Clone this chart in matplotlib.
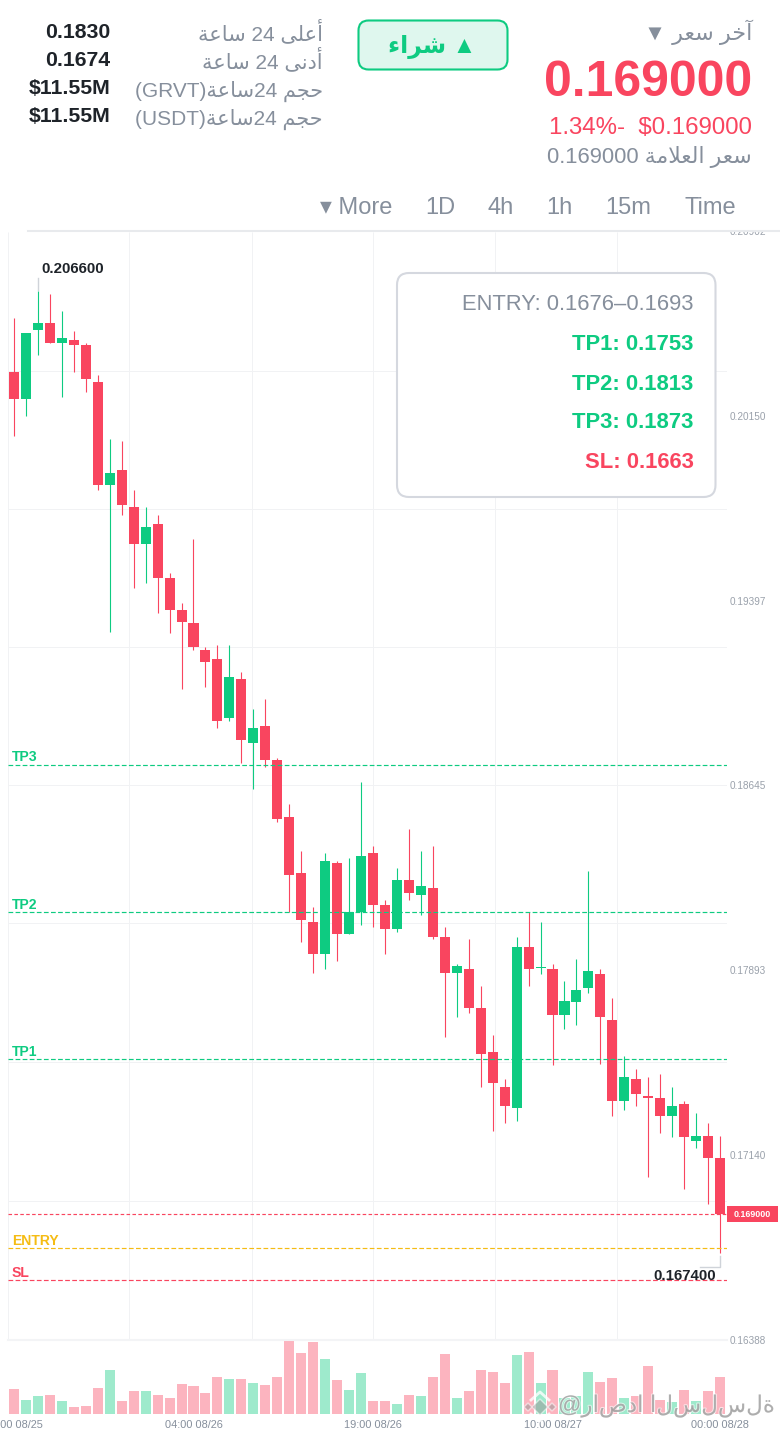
import re
import matplotlib
matplotlib.use('Agg')
import matplotlib.pyplot as plt
import matplotlib.patheffects as pe
from matplotlib.patches import FancyBboxPatch, Polygon, Rectangle

plt.rcParams['font.family'] = ['Liberation Sans', 'DejaVu Sans']

RED = '#F9455F'
GREEN = '#0ECB81'
GRAY = '#868F9C'
DARK = '#1E2329'
GRID = '#F1F2F4'
AMBER = '#F5BC14'

# candles, oldest first
opens = [0.20331, 0.20221, 0.20502, 0.20530, 0.20449, 0.20461, 0.20441, 0.20290, 0.19870, 0.19932,
         0.19781, 0.19630, 0.19712, 0.19492, 0.19361, 0.19308, 0.19198, 0.19162, 0.18921, 0.19080,
         0.18820, 0.18889, 0.18750, 0.18518, 0.18290, 0.18090, 0.17960, 0.18331, 0.18042, 0.18131,
         0.18368, 0.18160, 0.18062, 0.18258, 0.18200, 0.18229, 0.18029, 0.17883, 0.17899, 0.17740,
         0.17561, 0.17418, 0.17333, 0.17989, 0.17903, 0.17899, 0.17712, 0.17761, 0.17822, 0.17879,
         0.17691, 0.17361, 0.17451, 0.17382, 0.17370, 0.17300, 0.17349, 0.17198, 0.17219, 0.17129]
highs = [0.20551, 0.20489, 0.20660, 0.20648, 0.20579, 0.20498, 0.20449, 0.20318, 0.20058, 0.20050,
         0.19850, 0.19781, 0.19748, 0.19512, 0.19390, 0.19651, 0.19211, 0.19219, 0.19219, 0.19109,
         0.18958, 0.18999, 0.18758, 0.18571, 0.18380, 0.18152, 0.18372, 0.18339, 0.18351, 0.18661,
         0.18400, 0.18180, 0.18310, 0.18469, 0.18380, 0.18400, 0.18070, 0.17919, 0.18021, 0.17830,
         0.17630, 0.17451, 0.18029, 0.18131, 0.18090, 0.17919, 0.17850, 0.17940, 0.18298, 0.17899,
         0.17781, 0.17541, 0.17492, 0.17459, 0.17471, 0.17418, 0.17361, 0.17309, 0.17272, 0.17219]
lows = [0.20070, 0.20151, 0.20400, 0.20449, 0.20229, 0.20331, 0.20249, 0.19850, 0.19272, 0.19748,
        0.19451, 0.19471, 0.19349, 0.19268, 0.19040, 0.19198, 0.19048, 0.18881, 0.18909, 0.18738,
        0.18632, 0.18722, 0.18498, 0.18131, 0.18009, 0.17883, 0.17899, 0.17932, 0.18042, 0.18078,
        0.18070, 0.17960, 0.18050, 0.18180, 0.18119, 0.18021, 0.17622, 0.17700, 0.17720, 0.17418,
        0.17239, 0.17272, 0.17280, 0.17830, 0.17879, 0.17508, 0.17651, 0.17671, 0.17801, 0.17512,
        0.17300, 0.17321, 0.17341, 0.17052, 0.17231, 0.17211, 0.17003, 0.17170, 0.16942, 0.16740]
closes = [0.20221, 0.20489, 0.20530, 0.20449, 0.20469, 0.20441, 0.20302, 0.19870, 0.19919, 0.19789,
          0.19630, 0.19699, 0.19492, 0.19361, 0.19312, 0.19211, 0.19149, 0.18909, 0.19088, 0.18832,
          0.18881, 0.18750, 0.18510, 0.18282, 0.18099, 0.17960, 0.18339, 0.18042, 0.18131, 0.18359,
          0.18160, 0.18062, 0.18258, 0.18209, 0.18237, 0.18029, 0.17883, 0.17911, 0.17740, 0.17553,
          0.17431, 0.17341, 0.17989, 0.17899, 0.17907, 0.17712, 0.17769, 0.17810, 0.17891, 0.17700,
          0.17361, 0.17459, 0.17390, 0.17370, 0.17300, 0.17341, 0.17211, 0.17219, 0.17129, 0.16900]
volumes = [25, 14, 18, 19, 13, 7, 8, 26, 44, 13, 23, 23, 19, 16, 30, 28, 21, 37, 35, 35,
           31, 29, 37, 74, 61, 72, 55, 34, 24, 41, 13, 13, 10, 19, 18, 37, 60, 16, 23, 44,
           42, 31, 59, 62, 31, 44, 16, 18, 42, 32, 36, 16, 18, 48, 14, 12, 24, 13, 23, 37]

price_ticks = [0.16388, 0.17140, 0.17893, 0.18645, 0.19397, 0.20150, 0.20902]
time_ticks = [0, 15, 30, 45, 59]
time_labels = ['13:00 08/25', '04:00 08/26', '19:00 08/26', '10:00 08/27', '00:00 08/28']
grid_prices = [0.16954, 0.17520, 0.18086, 0.18648, 0.19211, 0.19773, 0.20335]
grid_times = [-0.5, 9.65, 19.85, 30.0, 40.2, 50.4]

last_price = 0.1690
levels = [('TP3', 0.1873, GREEN), ('TP2', 0.1813, GREEN), ('TP1', 0.1753, GREEN),
          ('ENTRY', 0.1676, AMBER), ('SL', 0.1663, RED)]
box_rows = [('ENTRY: 0.1676–0.1693', GRAY, 'normal'), ('TP1: 0.1753', GREEN, 'bold'),
            ('TP2: 0.1813', GREEN, 'bold'), ('TP3: 0.1873', GREEN, 'bold'),
            ('SL: 0.1663', RED, 'bold')]
tabs = ['▾ More', '1D', '4h', '1h', '15m', 'Time']

# matplotlib has no Arabic shaping, so pick the presentation forms here
# (isolated, final, initial, medial)
FORMS = {
    'ء': (0xFE80,), 'آ': (0xFE81, 0xFE82), 'أ': (0xFE83, 0xFE84), 'ا': (0xFE8D, 0xFE8E),
    'ة': (0xFE93, 0xFE94), 'د': (0xFEA9, 0xFEAA), 'ر': (0xFEAD, 0xFEAE), 'ى': (0xFEEF, 0xFEF0),
    'ج': (0xFE9D, 0xFE9E, 0xFE9F, 0xFEA0), 'ح': (0xFEA1, 0xFEA2, 0xFEA3, 0xFEA4),
    'خ': (0xFEA5, 0xFEA6, 0xFEA7, 0xFEA8), 'س': (0xFEB1, 0xFEB2, 0xFEB3, 0xFEB4),
    'ش': (0xFEB5, 0xFEB6, 0xFEB7, 0xFEB8), 'ع': (0xFEC9, 0xFECA, 0xFECB, 0xFECC),
    'ل': (0xFEDD, 0xFEDE, 0xFEDF, 0xFEE0), 'م': (0xFEE1, 0xFEE2, 0xFEE3, 0xFEE4),
    'ن': (0xFEE5, 0xFEE6, 0xFEE7, 0xFEE8),
}


def shape_word(word):
    out = ''
    joined = False
    i = 0
    while i < len(word):
        ch = word[i]
        if word[i:i + 2] == 'لا':
            out += chr(0xFEFC if joined else 0xFEFB)
            joined = False
            i += 2
            continue
        forms = FORMS.get(ch)
        if forms is None:
            out += ch
            joined = False
            i += 1
            continue
        next_ok = i + 1 < len(word) and word[i + 1] in FORMS
        if len(forms) == 4 and next_ok:
            out += chr(forms[3] if joined else forms[2])
            joined = True
        else:
            out += chr(forms[1] if joined and len(forms) > 1 else forms[0])
            joined = False
        i += 1
    return out


def ar(text):
    parts = re.findall(r'[\u0600-\u06FF][\u0600-\u06FF ]*[\u0600-\u06FF]|[^\u0600-\u06FF]+', text)
    res = []
    for p in parts:
        if re.match(r'[\u0600-\u06FF]', p):
            res.append(' '.join(shape_word(w) for w in p.split(' '))[::-1])
        else:
            core = p.strip(' ')
            lead = len(p) - len(p.lstrip(' '))
            trail = len(p) - len(p.rstrip(' '))
            res.append(' ' * trail + core + ' ' * lead)
    return ''.join(res[::-1])


W, H = 780, 1432
fig = plt.figure(figsize=(W / 100, H / 100), dpi=100, facecolor='white')

ax = fig.add_axes([8 / W, (H - 1339.5) / H, 719 / W, 1108 / H])
vol = fig.add_axes([8 / W, (H - 1414) / H, 719 / W, 74 / H])
ov = fig.add_axes([0, 0, 1, 1], zorder=5)
ov.set_xlim(0, W)
ov.set_ylim(H, 0)
ov.axis('off')

idx = list(range(len(opens)))
colors = [GREEN if c >= o else RED for o, c in zip(opens, closes)]
tops = [max(o, c) for o, c in zip(opens, closes)]
bottoms = [min(o, c) for o, c in zip(opens, closes)]
heights = [t - b for t, b in zip(tops, bottoms)]

ax.hlines(grid_prices, -0.5, 59.58, color=GRID, lw=0.72, zorder=1)
ax.vlines(grid_times, 0.16388, 0.20901, color=GRID, lw=0.72, zorder=1)
ax.vlines(idx, lows, highs, color=colors, lw=0.8, zorder=2)
ax.bar(idx, heights, bottom=bottoms, width=0.84, color=colors, zorder=3)

for name, price, col in levels:
    ax.axhline(price, color=col, lw=0.85, linestyle=(0, (4, 2)), zorder=4)
    ax.annotate(name, xy=(-0.17, price), xytext=(0, 2.4), textcoords='offset points',
                color=col, fontsize=10.1, fontweight='bold', va='baseline', ha='left')
ax.axhline(last_price, color=RED, lw=0.85, linestyle=(0, (3, 2)), zorder=4)

ax.set_xlim(-0.5, 59.58)
ax.set_ylim(0.16388, 0.16388 + 1108 / 24550)
ax.set_xticks([])
ax.yaxis.tick_right()
ax.set_yticks(price_ticks)
ax.set_yticklabels(['%.5f' % p for p in price_ticks])
ax.tick_params(axis='y', length=0, pad=2.2, labelsize=7.2, labelcolor='#9AA1AB')
ax.patch.set_alpha(0)
for s in ax.spines.values():
    s.set_visible(False)

vol.bar(idx, volumes, width=0.84, color=colors, alpha=0.4)
vol.set_xlim(-0.5, 59.58)
vol.set_ylim(0, 74)
vol.set_yticks([])
vol.set_xticks(time_ticks)
vol.set_xticklabels(time_labels)
vol.tick_params(axis='x', length=0, pad=4.5, labelsize=7.9, labelcolor=GRAY)
vol.patch.set_alpha(0)
for s in vol.spines.values():
    s.set_visible(False)

# header sits on top of the chart and cuts off the top price label
ov.add_patch(Rectangle((0, 0), W, 231, fc='white', ec='none', zorder=1))
ov.plot([28, W], [231, 231], color='#E8EAED', lw=1.5, zorder=2)
ov.plot([8, 727], [1340, 1340], color='#F3F4F6', lw=1.5, zorder=2)

for y, val in zip([38, 66, 94, 122], ['0.1830', '0.1674', '$11.55M', '$11.55M']):
    ov.text(110, y, val, ha='right', va='baseline', fontsize=15.3, fontweight='bold', color=DARK, zorder=3)
arabic_rows = ['أعلى 24 ساعة', 'أدنى 24 ساعة', 'حجم 24ساعة(GRVT)', 'حجم 24ساعة(USDT)']
for y, val in zip([40, 68.5, 96.5, 124.5], arabic_rows):
    ov.text(323, y, ar(val), ha='right', va='baseline', fontsize=15, color=GRAY, zorder=3)

ov.add_patch(FancyBboxPatch((368.5, 30.5), 129, 29, boxstyle='round,pad=10,rounding_size=10',
                            fc='#DFF7EE', ec=GREEN, lw=1.5, zorder=2))
ov.text(432, 53, ar('▲ شراء'), ha='center', va='baseline', fontsize=17, fontweight='bold', color=GREEN, zorder=3)

ov.text(752, 40, ar('آخر سعر ▼'), ha='right', va='baseline', fontsize=16, color=GRAY, zorder=3)
ov.text(752, 96, '0.169000', ha='right', va='baseline', fontsize=36, fontweight='bold', color=RED, zorder=3)
ov.text(752, 134, '1.34%-  $0.169000', ha='right', va='baseline', fontsize=17.3, color=RED, zorder=3)
ov.text(752, 163, ar('سعر العلامة 0.169000'), ha='right', va='baseline', fontsize=15.8, color=GRAY, zorder=3)

for x, tab in zip([392.5, 455, 514, 573, 651, 736], tabs):
    ov.text(x, 214, tab, ha='right', va='baseline', fontsize=17, color=GRAY, zorder=3)

ov.add_patch(FancyBboxPatch((409, 285), 294.5, 200, boxstyle='round,pad=12,rounding_size=12',
                            fc='white', ec='#D5D8DF', lw=1.5, zorder=2))
for y, (row, col, weight) in zip([310, 350, 390, 428.5, 468], box_rows):
    ov.text(693.7, y, row, ha='right', va='baseline', fontsize=15.8, color=col, fontweight=weight, zorder=3)

# high / low callouts
ov.plot([38, 38], [278, 290], color='#CFD3D9', lw=1, zorder=2)
ov.text(41.5, 273, '0.206600', ha='left', va='baseline', fontsize=10.8, fontweight='bold', color=DARK, zorder=3)
ov.plot([720, 720, 700], [1256, 1267, 1267], color='#CFD3D9', lw=1, zorder=2)
ov.text(716, 1280, '0.167400', ha='right', va='baseline', fontsize=10.8, fontweight='bold', color=DARK, zorder=3)

ov.add_patch(Rectangle((727, 1206), 51, 16, fc=RED, ec='none', zorder=2))
ov.text(752.5, 1214.5, '0.169000', ha='center', va='center', fontsize=6.4, fontweight='bold', color='white', zorder=3)

# watermark
mark = dict(fc='#9A9A9A', ec='white', lw=1, alpha=0.55, zorder=6)
ov.add_patch(Polygon([(540, 1399), (548, 1407), (540, 1415), (532, 1407)], **mark))
ov.add_patch(Polygon([(528, 1403), (532, 1407), (528, 1411), (524, 1407)], **mark))
ov.add_patch(Polygon([(552, 1403), (556, 1407), (552, 1411), (548, 1407)], **mark))
ov.plot([531, 540, 549], [1400, 1392, 1400], color='white', lw=2, alpha=0.8, zorder=6)
ov.plot([531, 540, 549], [1414, 1421, 1414], color='white', lw=2, alpha=0.8, zorder=6)
ov.text(558, 1406, '@راصدا السلسلة', ha='left', va='center', fontsize=16.6, color='#8C8C8C', alpha=0.6,
        zorder=6, path_effects=[pe.withStroke(linewidth=1.5, foreground='white')])

fig.savefig('out.png', dpi=100)
